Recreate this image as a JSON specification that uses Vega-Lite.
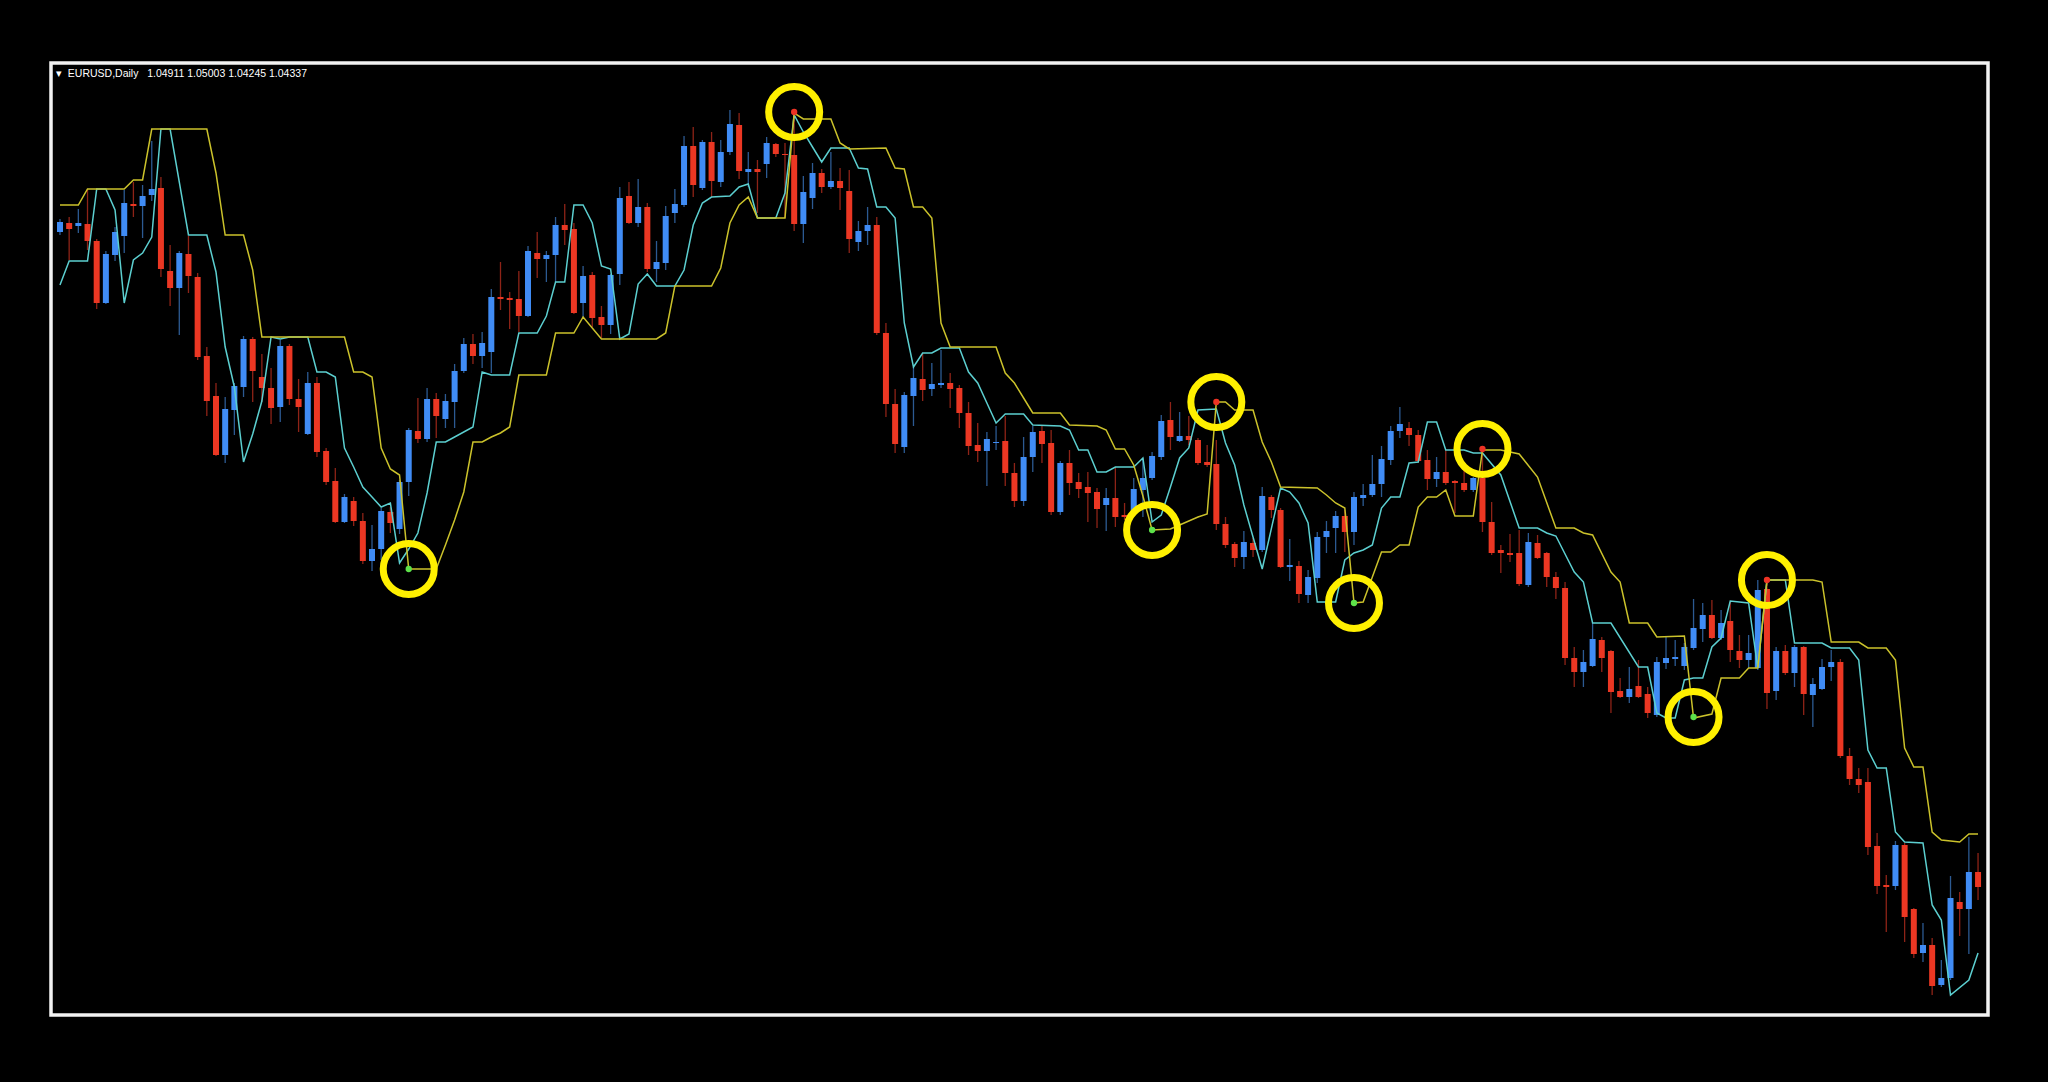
{
"$schema":"https://vega.github.io/schema/vega-lite/v6.json",
"width":1937,"height":952,
"autosize":{"type":"none"},
"padding":{"left":51,"top":63,"right":60,"bottom":67},
"background":"#000000",
"config":{"view":{"stroke":"#f2f2f2","strokeWidth":3.5,"fill":"#000000"}},
"title":{"text":"▾\u00a0\u00a0EURUSD,Daily\u00a0\u00a0\u00a01.04911 1.05003 1.04245 1.04337","anchor":"start","frame":"group","orient":"top","offset":-24,"dx":5,"baseline":"alphabetic","fontSize":10.5,"font":"Liberation Sans","fontWeight":"normal","color":"#ffffff"},
"datasets":{
"candles":[
{"i":0,"o":1.0968,"h":1.0981,"l":1.0965,"c":1.0978},
{"i":1,"o":1.0977,"h":1.0983,"l":1.0940,"c":1.0971},
{"i":2,"o":1.0974,"h":1.0991,"l":1.0967,"c":1.0977},
{"i":3,"o":1.0976,"h":1.1011,"l":1.0950,"c":1.0959},
{"i":4,"o":1.0959,"h":1.0961,"l":1.0891,"c":1.0897},
{"i":5,"o":1.0897,"h":1.0949,"l":1.0896,"c":1.0946},
{"i":6,"o":1.0945,"h":1.0973,"l":1.0939,"c":1.0968},
{"i":7,"o":1.0964,"h":1.1010,"l":1.0947,"c":1.0997},
{"i":8,"o":1.0996,"h":1.1018,"l":1.0983,"c":1.0994},
{"i":9,"o":1.0994,"h":1.1015,"l":1.0962,"c":1.1004},
{"i":10,"o":1.1005,"h":1.1059,"l":1.0999,"c":1.1011},
{"i":11,"o":1.1012,"h":1.1023,"l":1.0923,"c":1.0931},
{"i":12,"o":1.0929,"h":1.0955,"l":1.0894,"c":1.0912},
{"i":13,"o":1.0912,"h":1.0949,"l":1.0865,"c":1.0947},
{"i":14,"o":1.0946,"h":1.0964,"l":1.0907,"c":1.0924},
{"i":15,"o":1.0923,"h":1.0927,"l":1.0840,"c":1.0843},
{"i":16,"o":1.0844,"h":1.0853,"l":1.0784,"c":1.0799},
{"i":17,"o":1.0804,"h":1.0817,"l":1.0744,"c":1.0745},
{"i":18,"o":1.0745,"h":1.0803,"l":1.0737,"c":1.0791},
{"i":19,"o":1.0790,"h":1.0817,"l":1.0765,"c":1.0814},
{"i":20,"o":1.0813,"h":1.0864,"l":1.0803,"c":1.0861},
{"i":21,"o":1.0861,"h":1.0863,"l":1.0798,"c":1.0829},
{"i":22,"o":1.0823,"h":1.0846,"l":1.0798,"c":1.0812},
{"i":23,"o":1.0812,"h":1.0832,"l":1.0776,"c":1.0792},
{"i":24,"o":1.0793,"h":1.0860,"l":1.0778,"c":1.0854},
{"i":25,"o":1.0854,"h":1.0856,"l":1.0795,"c":1.0801},
{"i":26,"o":1.0801,"h":1.0821,"l":1.0768,"c":1.0793},
{"i":27,"o":1.0766,"h":1.0828,"l":1.0765,"c":1.0817},
{"i":28,"o":1.0817,"h":1.0823,"l":1.0743,"c":1.0748},
{"i":29,"o":1.0749,"h":1.0752,"l":1.0715,"c":1.0718},
{"i":30,"o":1.0719,"h":1.0732,"l":1.0677,"c":1.0678},
{"i":31,"o":1.0678,"h":1.0706,"l":1.0677,"c":1.0703},
{"i":32,"o":1.0699,"h":1.0703,"l":1.0674,"c":1.0679},
{"i":33,"o":1.0679,"h":1.0687,"l":1.0636,"c":1.0639},
{"i":34,"o":1.0639,"h":1.0675,"l":1.0629,"c":1.0651},
{"i":35,"o":1.0651,"h":1.0692,"l":1.0640,"c":1.0689},
{"i":36,"o":1.0688,"h":1.0693,"l":1.0667,"c":1.0677},
{"i":37,"o":1.0671,"h":1.0720,"l":1.0666,"c":1.0718},
{"i":38,"o":1.0718,"h":1.0772,"l":1.0704,"c":1.0770},
{"i":39,"o":1.0769,"h":1.0802,"l":1.0757,"c":1.0761},
{"i":40,"o":1.0761,"h":1.0812,"l":1.0758,"c":1.0801},
{"i":41,"o":1.0801,"h":1.0807,"l":1.0762,"c":1.0784},
{"i":42,"o":1.0781,"h":1.0806,"l":1.0772,"c":1.0799},
{"i":43,"o":1.0798,"h":1.0836,"l":1.0772,"c":1.0829},
{"i":44,"o":1.0829,"h":1.0862,"l":1.0827,"c":1.0856},
{"i":45,"o":1.0856,"h":1.0866,"l":1.0836,"c":1.0844},
{"i":46,"o":1.0844,"h":1.0868,"l":1.0832,"c":1.0857},
{"i":47,"o":1.0848,"h":1.0911,"l":1.0827,"c":1.0903},
{"i":48,"o":1.0903,"h":1.0938,"l":1.0890,"c":1.0901},
{"i":49,"o":1.0902,"h":1.0908,"l":1.0871,"c":1.0900},
{"i":50,"o":1.0901,"h":1.0929,"l":1.0868,"c":1.0884},
{"i":51,"o":1.0884,"h":1.0954,"l":1.0883,"c":1.0949},
{"i":52,"o":1.0947,"h":1.0968,"l":1.0922,"c":1.0941},
{"i":53,"o":1.0941,"h":1.0949,"l":1.0918,"c":1.0945},
{"i":54,"o":1.0945,"h":1.0983,"l":1.0918,"c":1.0975},
{"i":55,"o":1.0975,"h":1.0996,"l":1.0955,"c":1.0970},
{"i":56,"o":1.0971,"h":1.0977,"l":1.0886,"c":1.0887},
{"i":57,"o":1.0897,"h":1.0934,"l":1.0883,"c":1.0924},
{"i":58,"o":1.0925,"h":1.0928,"l":1.0873,"c":1.0882},
{"i":59,"o":1.0883,"h":1.0894,"l":1.0862,"c":1.0875},
{"i":60,"o":1.0875,"h":1.0926,"l":1.0866,"c":1.0925},
{"i":61,"o":1.0926,"h":1.1013,"l":1.0915,"c":1.1002},
{"i":62,"o":1.1004,"h":1.1018,"l":1.0976,"c":1.0977},
{"i":63,"o":1.0977,"h":1.1021,"l":1.0973,"c":1.0993},
{"i":64,"o":1.0993,"h":1.0997,"l":1.0928,"c":1.0931},
{"i":65,"o":1.0931,"h":1.0959,"l":1.0918,"c":1.0938},
{"i":66,"o":1.0937,"h":1.0994,"l":1.0930,"c":1.0984},
{"i":67,"o":1.0987,"h":1.1011,"l":1.0977,"c":1.0996},
{"i":68,"o":1.0995,"h":1.1064,"l":1.0993,"c":1.1054},
{"i":69,"o":1.1054,"h":1.1073,"l":1.1003,"c":1.1015},
{"i":70,"o":1.1012,"h":1.1060,"l":1.1010,"c":1.1058},
{"i":71,"o":1.1058,"h":1.1068,"l":1.1003,"c":1.1019},
{"i":72,"o":1.1018,"h":1.1060,"l":1.1013,"c":1.1048},
{"i":73,"o":1.1048,"h":1.1090,"l":1.1045,"c":1.1076},
{"i":74,"o":1.1075,"h":1.1087,"l":1.1021,"c":1.1029},
{"i":75,"o":1.1028,"h":1.1048,"l":1.1013,"c":1.1031},
{"i":76,"o":1.1031,"h":1.1040,"l":1.0987,"c":1.1028},
{"i":77,"o":1.1036,"h":1.1063,"l":1.1022,"c":1.1057},
{"i":78,"o":1.1056,"h":1.1057,"l":1.1043,"c":1.1046},
{"i":79,"o":1.1046,"h":1.1057,"l":1.0982,"c":1.1045},
{"i":80,"o":1.1045,"h":1.1088,"l":1.0969,"c":1.0976},
{"i":81,"o":1.0976,"h":1.1024,"l":1.0957,"c":1.1008},
{"i":82,"o":1.1002,"h":1.1037,"l":1.0991,"c":1.1027},
{"i":83,"o":1.1027,"h":1.1031,"l":1.1007,"c":1.1013},
{"i":84,"o":1.1013,"h":1.1048,"l":1.1011,"c":1.1019},
{"i":85,"o":1.1019,"h":1.1032,"l":1.0990,"c":1.1012},
{"i":86,"o":1.1009,"h":1.1030,"l":1.0947,"c":1.0961},
{"i":87,"o":1.0958,"h":1.0979,"l":1.0949,"c":1.0969},
{"i":88,"o":1.0969,"h":1.0993,"l":1.0955,"c":1.0975},
{"i":89,"o":1.0975,"h":1.0983,"l":1.0865,"c":1.0867},
{"i":90,"o":1.0867,"h":1.0877,"l":1.0783,"c":1.0796},
{"i":91,"o":1.0796,"h":1.0811,"l":1.0747,"c":1.0756},
{"i":92,"o":1.0753,"h":1.0808,"l":1.0747,"c":1.0805},
{"i":93,"o":1.0804,"h":1.0833,"l":1.0774,"c":1.0822},
{"i":94,"o":1.0821,"h":1.0847,"l":1.0799,"c":1.0810},
{"i":95,"o":1.0811,"h":1.0837,"l":1.0804,"c":1.0816},
{"i":96,"o":1.0815,"h":1.0850,"l":1.0812,"c":1.0817},
{"i":97,"o":1.0817,"h":1.0827,"l":1.0792,"c":1.0811},
{"i":98,"o":1.0812,"h":1.0815,"l":1.0772,"c":1.0787},
{"i":99,"o":1.0787,"h":1.0798,"l":1.0745,"c":1.0754},
{"i":100,"o":1.0755,"h":1.0777,"l":1.0738,"c":1.0749},
{"i":101,"o":1.0749,"h":1.0768,"l":1.0714,"c":1.0761},
{"i":102,"o":1.0757,"h":1.0774,"l":1.0750,"c":1.0758},
{"i":103,"o":1.0759,"h":1.0784,"l":1.0714,"c":1.0727},
{"i":104,"o":1.0727,"h":1.0737,"l":1.0693,"c":1.0699},
{"i":105,"o":1.0699,"h":1.0763,"l":1.0694,"c":1.0743},
{"i":106,"o":1.0743,"h":1.0774,"l":1.0728,"c":1.0768},
{"i":107,"o":1.0769,"h":1.0774,"l":1.0737,"c":1.0756},
{"i":108,"o":1.0757,"h":1.0770,"l":1.0685,"c":1.0688},
{"i":109,"o":1.0688,"h":1.0739,"l":1.0685,"c":1.0737},
{"i":110,"o":1.0737,"h":1.0750,"l":1.0705,"c":1.0717},
{"i":111,"o":1.0718,"h":1.0727,"l":1.0702,"c":1.0711},
{"i":112,"o":1.0713,"h":1.0728,"l":1.0678,"c":1.0707},
{"i":113,"o":1.0708,"h":1.0712,"l":1.0672,"c":1.0691},
{"i":114,"o":1.0695,"h":1.0712,"l":1.0669,"c":1.0702},
{"i":115,"o":1.0702,"h":1.0733,"l":1.0673,"c":1.0683},
{"i":116,"o":1.0685,"h":1.0697,"l":1.0680,"c":1.0683},
{"i":117,"o":1.0688,"h":1.0722,"l":1.0685,"c":1.0711},
{"i":118,"o":1.0710,"h":1.0742,"l":1.0683,"c":1.0722},
{"i":119,"o":1.0722,"h":1.0748,"l":1.0720,"c":1.0744},
{"i":120,"o":1.0743,"h":1.0785,"l":1.0740,"c":1.0779},
{"i":121,"o":1.0780,"h":1.0798,"l":1.0750,"c":1.0763},
{"i":122,"o":1.0759,"h":1.0788,"l":1.0758,"c":1.0764},
{"i":123,"o":1.0764,"h":1.0784,"l":1.0755,"c":1.0760},
{"i":124,"o":1.0760,"h":1.0762,"l":1.0735,"c":1.0737},
{"i":125,"o":1.0738,"h":1.0755,"l":1.0733,"c":1.0735},
{"i":126,"o":1.0736,"h":1.0760,"l":1.0670,"c":1.0676},
{"i":127,"o":1.0676,"h":1.0683,"l":1.0652,"c":1.0655},
{"i":128,"o":1.0656,"h":1.0658,"l":1.0633,"c":1.0642},
{"i":129,"o":1.0643,"h":1.0669,"l":1.0631,"c":1.0658},
{"i":130,"o":1.0657,"h":1.0662,"l":1.0643,"c":1.0650},
{"i":131,"o":1.0650,"h":1.0713,"l":1.0648,"c":1.0704},
{"i":132,"o":1.0703,"h":1.0705,"l":1.0682,"c":1.0690},
{"i":133,"o":1.0690,"h":1.0692,"l":1.0632,"c":1.0633},
{"i":134,"o":1.0633,"h":1.0661,"l":1.0619,"c":1.0635},
{"i":135,"o":1.0634,"h":1.0639,"l":1.0597,"c":1.0606},
{"i":136,"o":1.0605,"h":1.0630,"l":1.0597,"c":1.0623},
{"i":137,"o":1.0622,"h":1.0668,"l":1.0617,"c":1.0663},
{"i":138,"o":1.0663,"h":1.0679,"l":1.0647,"c":1.0669},
{"i":139,"o":1.0672,"h":1.0689,"l":1.0647,"c":1.0684},
{"i":140,"o":1.0684,"h":1.0690,"l":1.0648,"c":1.0668},
{"i":141,"o":1.0668,"h":1.0708,"l":1.0655,"c":1.0703},
{"i":142,"o":1.0702,"h":1.0716,"l":1.0694,"c":1.0705},
{"i":143,"o":1.0705,"h":1.0745,"l":1.0703,"c":1.0716},
{"i":144,"o":1.0716,"h":1.0754,"l":1.0703,"c":1.0741},
{"i":145,"o":1.0740,"h":1.0774,"l":1.0735,"c":1.0769},
{"i":146,"o":1.0769,"h":1.0793,"l":1.0762,"c":1.0776},
{"i":147,"o":1.0772,"h":1.0778,"l":1.0754,"c":1.0765},
{"i":148,"o":1.0765,"h":1.0770,"l":1.0737,"c":1.0739},
{"i":149,"o":1.0740,"h":1.0750,"l":1.0710,"c":1.0721},
{"i":150,"o":1.0721,"h":1.0743,"l":1.0713,"c":1.0728},
{"i":151,"o":1.0728,"h":1.0750,"l":1.0715,"c":1.0717},
{"i":152,"o":1.0719,"h":1.0720,"l":1.0687,"c":1.0717},
{"i":153,"o":1.0717,"h":1.0730,"l":1.0708,"c":1.0710},
{"i":154,"o":1.0710,"h":1.0723,"l":1.0708,"c":1.0722},
{"i":155,"o":1.0722,"h":1.0751,"l":1.0668,"c":1.0678},
{"i":156,"o":1.0678,"h":1.0698,"l":1.0645,"c":1.0647},
{"i":157,"o":1.0650,"h":1.0655,"l":1.0627,"c":1.0647},
{"i":158,"o":1.0647,"h":1.0666,"l":1.0638,"c":1.0645},
{"i":159,"o":1.0647,"h":1.0670,"l":1.0614,"c":1.0616},
{"i":160,"o":1.0615,"h":1.0667,"l":1.0613,"c":1.0658},
{"i":161,"o":1.0657,"h":1.0665,"l":1.0641,"c":1.0642},
{"i":162,"o":1.0647,"h":1.0648,"l":1.0613,"c":1.0623},
{"i":163,"o":1.0623,"h":1.0628,"l":1.0601,"c":1.0612},
{"i":164,"o":1.0612,"h":1.0618,"l":1.0535,"c":1.0542},
{"i":165,"o":1.0542,"h":1.0553,"l":1.0513,"c":1.0528},
{"i":166,"o":1.0528,"h":1.0550,"l":1.0513,"c":1.0538},
{"i":167,"o":1.0534,"h":1.0577,"l":1.0533,"c":1.0561},
{"i":168,"o":1.0560,"h":1.0563,"l":1.0528,"c":1.0542},
{"i":169,"o":1.0549,"h":1.0550,"l":1.0487,"c":1.0508},
{"i":170,"o":1.0509,"h":1.0522,"l":1.0502,"c":1.0503},
{"i":171,"o":1.0503,"h":1.0533,"l":1.0497,"c":1.0511},
{"i":172,"o":1.0514,"h":1.0540,"l":1.0502,"c":1.0503},
{"i":173,"o":1.0506,"h":1.0513,"l":1.0482,"c":1.0487},
{"i":174,"o":1.0485,"h":1.0543,"l":1.0483,"c":1.0538},
{"i":175,"o":1.0537,"h":1.0563,"l":1.0531,"c":1.0542},
{"i":176,"o":1.0541,"h":1.0560,"l":1.0534,"c":1.0543},
{"i":177,"o":1.0534,"h":1.0557,"l":1.0530,"c":1.0553},
{"i":178,"o":1.0552,"h":1.0601,"l":1.0550,"c":1.0572},
{"i":179,"o":1.0571,"h":1.0597,"l":1.0558,"c":1.0585},
{"i":180,"o":1.0585,"h":1.0600,"l":1.0561,"c":1.0562},
{"i":181,"o":1.0562,"h":1.0590,"l":1.0560,"c":1.0577},
{"i":182,"o":1.0579,"h":1.0598,"l":1.0538,"c":1.0550},
{"i":183,"o":1.0549,"h":1.0565,"l":1.0532,"c":1.0540},
{"i":184,"o":1.0540,"h":1.0565,"l":1.0532,"c":1.0547},
{"i":185,"o":1.0532,"h":1.0620,"l":1.0530,"c":1.0610},
{"i":186,"o":1.0611,"h":1.0620,"l":1.0491,"c":1.0507},
{"i":187,"o":1.0509,"h":1.0553,"l":1.0500,"c":1.0549},
{"i":188,"o":1.0549,"h":1.0555,"l":1.0525,"c":1.0527},
{"i":189,"o":1.0527,"h":1.0555,"l":1.0513,"c":1.0553},
{"i":190,"o":1.0553,"h":1.0554,"l":1.0485,"c":1.0506},
{"i":191,"o":1.0505,"h":1.0522,"l":1.0473,"c":1.0516},
{"i":192,"o":1.0511,"h":1.0541,"l":1.0510,"c":1.0533},
{"i":193,"o":1.0533,"h":1.0550,"l":1.0519,"c":1.0538},
{"i":194,"o":1.0538,"h":1.0541,"l":1.0442,"c":1.0444},
{"i":195,"o":1.0444,"h":1.0452,"l":1.0415,"c":1.0421},
{"i":196,"o":1.0421,"h":1.0432,"l":1.0407,"c":1.0415},
{"i":197,"o":1.0418,"h":1.0432,"l":1.0345,"c":1.0353},
{"i":198,"o":1.0354,"h":1.0367,"l":1.0306,"c":1.0314},
{"i":199,"o":1.0315,"h":1.0325,"l":1.0268,"c":1.0313},
{"i":200,"o":1.0314,"h":1.0359,"l":1.0310,"c":1.0355},
{"i":201,"o":1.0355,"h":1.0357,"l":1.0258,"c":1.0283},
{"i":202,"o":1.0291,"h":1.0292,"l":1.0242,"c":1.0246},
{"i":203,"o":1.0247,"h":1.0277,"l":1.0238,"c":1.0255},
{"i":204,"o":1.0255,"h":1.0262,"l":1.0205,"c":1.0214},
{"i":205,"o":1.0215,"h":1.0240,"l":1.0213,"c":1.0222},
{"i":206,"o":1.0222,"h":1.0324,"l":1.0220,"c":1.0302},
{"i":207,"o":1.0298,"h":1.0308,"l":1.0264,"c":1.0291},
{"i":208,"o":1.0291,"h":1.0363,"l":1.0246,"c":1.0328},
{"i":209,"o":1.0328,"h":1.0347,"l":1.0300,"c":1.0313}
],
"cyan":[
{"i":0,"v":1.0915},{"i":1,"v":1.0939},{"i":3,"v":1.0939},{"i":4,"v":1.1011},{"i":5,"v":1.1011},{"i":6,"v":1.0990},{"i":7,"v":1.0897},{"i":8,"v":1.0940},{"i":9,"v":1.0947},{"i":10,"v":1.0963},{"i":11,"v":1.1071},{"i":12,"v":1.1071},{"i":14,"v":1.0965},{"i":16,"v":1.0965},{"i":17,"v":1.0928},{"i":18,"v":1.0853},{"i":19,"v":1.0813},{"i":20,"v":1.0738},{"i":21,"v":1.0766},{"i":22,"v":1.0799},{"i":23,"v":1.0863},{"i":24,"v":1.0861},{"i":25,"v":1.0863},{"i":27,"v":1.0863},{"i":28,"v":1.0828},{"i":29,"v":1.0828},{"i":30,"v":1.0823},{"i":31,"v":1.0752},{"i":32,"v":1.0733},{"i":33,"v":1.0713},{"i":34,"v":1.0703},{"i":35,"v":1.0693},{"i":36,"v":1.0697},{"i":37,"v":1.0637},{"i":38,"v":1.0651},{"i":39,"v":1.0667},{"i":40,"v":1.0707},{"i":41,"v":1.0758},{"i":42,"v":1.0758},{"i":43,"v":1.0763},{"i":45,"v":1.0773},{"i":46,"v":1.0828},{"i":47,"v":1.0825},{"i":49,"v":1.0825},{"i":50,"v":1.0867},{"i":52,"v":1.0867},{"i":53,"v":1.0884},{"i":54,"v":1.0918},{"i":55,"v":1.0918},{"i":56,"v":1.0995},{"i":57,"v":1.0995},{"i":58,"v":1.0977},{"i":59,"v":1.0934},{"i":60,"v":1.0931},{"i":61,"v":1.0861},{"i":62,"v":1.0866},{"i":63,"v":1.0916},{"i":64,"v":1.0926},{"i":65,"v":1.0914},{"i":67,"v":1.0914},{"i":68,"v":1.0930},{"i":69,"v":1.0975},{"i":70,"v":1.0997},{"i":71,"v":1.1003},{"i":73,"v":1.1004},{"i":74,"v":1.1013},{"i":75,"v":1.1016},{"i":76,"v":1.0982},{"i":78,"v":1.0982},{"i":79,"v":1.1007},{"i":80,"v":1.1085},{"i":81,"v":1.1068},{"i":82,"v":1.1053},{"i":83,"v":1.1038},{"i":84,"v":1.1052},{"i":86,"v":1.1052},{"i":87,"v":1.1032},{"i":88,"v":1.1031},{"i":89,"v":1.0993},{"i":90,"v":1.0993},{"i":91,"v":1.0982},{"i":92,"v":1.0877},{"i":93,"v":1.0833},{"i":94,"v":1.0847},{"i":95,"v":1.0847},{"i":96,"v":1.0852},{"i":98,"v":1.0852},{"i":99,"v":1.0828},{"i":100,"v":1.0817},{"i":101,"v":1.0797},{"i":102,"v":1.0777},{"i":103,"v":1.0786},{"i":105,"v":1.0786},{"i":106,"v":1.0775},{"i":109,"v":1.0774},{"i":110,"v":1.0770},{"i":111,"v":1.0750},{"i":112,"v":1.0750},{"i":113,"v":1.0728},{"i":114,"v":1.0728},{"i":115,"v":1.0733},{"i":117,"v":1.0733},{"i":118,"v":1.0742},{"i":119,"v":1.0678},{"i":120,"v":1.0685},{"i":121,"v":1.0713},{"i":122,"v":1.0742},{"i":123,"v":1.0752},{"i":124,"v":1.0790},{"i":126,"v":1.0791},{"i":127,"v":1.0757},{"i":128,"v":1.0735},{"i":129,"v":1.0695},{"i":130,"v":1.0663},{"i":131,"v":1.0631},{"i":133,"v":1.0712},{"i":134,"v":1.0708},{"i":135,"v":1.0697},{"i":136,"v":1.0677},{"i":137,"v":1.0598},{"i":139,"v":1.0598},{"i":140,"v":1.0640},{"i":141,"v":1.0647},{"i":142,"v":1.0650},{"i":143,"v":1.0655},{"i":144,"v":1.0692},{"i":145,"v":1.0703},{"i":146,"v":1.0703},{"i":147,"v":1.0737},{"i":148,"v":1.0738},{"i":149,"v":1.0778},{"i":150,"v":1.0778},{"i":151,"v":1.0750},{"i":153,"v":1.0750},{"i":154,"v":1.0747},{"i":155,"v":1.0747},{"i":157,"v":1.0725},{"i":159,"v":1.0672},{"i":161,"v":1.0672},{"i":162,"v":1.0667},{"i":163,"v":1.0664},{"i":165,"v":1.0628},{"i":166,"v":1.0618},{"i":167,"v":1.0577},{"i":169,"v":1.0577},{"i":172,"v":1.0533},{"i":173,"v":1.0533},{"i":174,"v":1.0487},{"i":175,"v":1.0482},{"i":176,"v":1.0482},{"i":177,"v":1.0520},{"i":178,"v":1.0522},{"i":179,"v":1.0522},{"i":180,"v":1.0553},{"i":181,"v":1.0562},{"i":182,"v":1.0599},{"i":184,"v":1.0597},{"i":185,"v":1.0532},{"i":186,"v":1.0620},{"i":188,"v":1.0620},{"i":189,"v":1.0557},{"i":192,"v":1.0557},{"i":193,"v":1.0552},{"i":195,"v":1.0552},{"i":196,"v":1.0540},{"i":197,"v":1.0450},{"i":198,"v":1.0432},{"i":199,"v":1.0432},{"i":200,"v":1.0368},{"i":201,"v":1.0358},{"i":203,"v":1.0357},{"i":204,"v":1.0295},{"i":205,"v":1.0280},{"i":206,"v":1.0205},{"i":208,"v":1.0220},{"i":209,"v":1.0247}
],
"yellow":[
{"i":0,"v":1.0995},{"i":2,"v":1.0995},{"i":3,"v":1.1011},{"i":7,"v":1.1011},{"i":8,"v":1.1020},{"i":9,"v":1.1020},{"i":10,"v":1.1071},{"i":16,"v":1.1071},{"i":17,"v":1.1027},{"i":18,"v":1.0965},{"i":20,"v":1.0965},{"i":21,"v":1.0930},{"i":22,"v":1.0863},{"i":31,"v":1.0863},{"i":32,"v":1.0828},{"i":33,"v":1.0828},{"i":34,"v":1.0823},{"i":35,"v":1.0752},{"i":36,"v":1.0731},{"i":37,"v":1.0725},{"i":38,"v":1.0631},{"i":41,"v":1.0631},{"i":42,"v":1.0655},{"i":43,"v":1.0680},{"i":44,"v":1.0708},{"i":45,"v":1.0758},{"i":46,"v":1.0758},{"i":47,"v":1.0763},{"i":48,"v":1.0767},{"i":49,"v":1.0773},{"i":50,"v":1.0825},{"i":53,"v":1.0825},{"i":54,"v":1.0867},{"i":56,"v":1.0867},{"i":57,"v":1.0883},{"i":59,"v":1.0861},{"i":65,"v":1.0861},{"i":66,"v":1.0867},{"i":67,"v":1.0914},{"i":71,"v":1.0914},{"i":72,"v":1.0932},{"i":73,"v":1.0977},{"i":74,"v":1.0995},{"i":75,"v":1.1003},{"i":76,"v":1.0982},{"i":79,"v":1.0982},{"i":80,"v":1.1087},{"i":81,"v":1.1081},{"i":84,"v":1.1081},{"i":85,"v":1.1057},{"i":86,"v":1.1051},{"i":90,"v":1.1052},{"i":91,"v":1.1032},{"i":92,"v":1.1031},{"i":93,"v":1.0993},{"i":94,"v":1.0993},{"i":95,"v":1.0982},{"i":96,"v":1.0877},{"i":97,"v":1.0853},{"i":102,"v":1.0853},{"i":103,"v":1.0827},{"i":104,"v":1.0817},{"i":105,"v":1.0802},{"i":106,"v":1.0787},{"i":109,"v":1.0787},{"i":110,"v":1.0775},{"i":113,"v":1.0774},{"i":114,"v":1.0770},{"i":115,"v":1.0751},{"i":116,"v":1.0751},{"i":117,"v":1.0735},{"i":118,"v":1.0704},{"i":119,"v":1.0670},{"i":121,"v":1.0671},{"i":122,"v":1.0675},{"i":124,"v":1.0683},{"i":125,"v":1.0686},{"i":126,"v":1.0798},{"i":127,"v":1.0798},{"i":128,"v":1.0790},{"i":130,"v":1.0790},{"i":131,"v":1.0758},{"i":132,"v":1.0738},{"i":133,"v":1.0713},{"i":137,"v":1.0712},{"i":138,"v":1.0705},{"i":139,"v":1.0697},{"i":140,"v":1.0692},{"i":141,"v":1.0597},{"i":142,"v":1.0598},{"i":143,"v":1.0623},{"i":144,"v":1.0648},{"i":145,"v":1.0648},{"i":146,"v":1.0655},{"i":147,"v":1.0655},{"i":148,"v":1.0693},{"i":149,"v":1.0703},{"i":150,"v":1.0703},{"i":151,"v":1.0710},{"i":152,"v":1.0684},{"i":154,"v":1.0684},{"i":155,"v":1.0750},{"i":157,"v":1.0750},{"i":159,"v":1.0746},{"i":161,"v":1.0723},{"i":163,"v":1.0672},{"i":165,"v":1.0672},{"i":166,"v":1.0667},{"i":167,"v":1.0665},{"i":169,"v":1.0628},{"i":170,"v":1.0618},{"i":171,"v":1.0577},{"i":173,"v":1.0577},{"i":174,"v":1.0563},{"i":177,"v":1.0564},{"i":178,"v":1.0482},{"i":180,"v":1.0486},{"i":181,"v":1.0522},{"i":183,"v":1.0522},{"i":184,"v":1.0532},{"i":185,"v":1.0532},{"i":186,"v":1.0620},{"i":191,"v":1.0620},{"i":192,"v":1.0618},{"i":193,"v":1.0558},{"i":196,"v":1.0558},{"i":197,"v":1.0552},{"i":199,"v":1.0552},{"i":200,"v":1.0540},{"i":201,"v":1.0452},{"i":202,"v":1.0433},{"i":203,"v":1.0433},{"i":204,"v":1.0368},{"i":205,"v":1.0360},{"i":207,"v":1.0358},{"i":208,"v":1.0366},{"i":209,"v":1.0366}
],
"swings":[
{"i":38,"v":1.0631,"kind":"low"},
{"i":80,"v":1.1088,"kind":"high"},
{"i":119,"v":1.0670,"kind":"low"},
{"i":126,"v":1.0798,"kind":"high"},
{"i":141,"v":1.0597,"kind":"low"},
{"i":155,"v":1.0751,"kind":"high"},
{"i":178,"v":1.0483,"kind":"low"},
{"i":186,"v":1.0620,"kind":"high"}
]
},
"encoding":{
"x":{"field":"i","type":"quantitative","scale":{"domain":[-0.434,209.54],"nice":false,"zero":false},"axis":null}
},
"layer":[
{"data":{"name":"candles"},"mark":{"type":"rule","strokeWidth":1.3,"clip":true},
 "encoding":{"y":{"field":"l","type":"quantitative","scale":{"domain":[1.0185,1.1137],"nice":false,"zero":false},"axis":null},"y2":{"field":"h"},
 "color":{"condition":{"test":"datum.c >= datum.o","value":"#2c5a92"},"value":"#8e2317"}}},
{"data":{"name":"candles"},"mark":{"type":"bar","size":6,"orient":"vertical","clip":true},
 "encoding":{"y":{"field":"o","type":"quantitative"},"y2":{"field":"c"},
 "color":{"condition":{"test":"datum.c >= datum.o","value":"#408cf5"},"value":"#eb3723"}}},
{"data":{"name":"cyan"},"mark":{"type":"line","color":"#5ccfd0","strokeWidth":1.5,"clip":true},
 "encoding":{"y":{"field":"v","type":"quantitative"}}},
{"data":{"name":"yellow"},"mark":{"type":"line","color":"#cbc22b","strokeWidth":1.5,"clip":true},
 "encoding":{"y":{"field":"v","type":"quantitative"}}},
{"data":{"name":"swings"},"mark":{"type":"point","filled":true,"size":40,"opacity":1},
 "encoding":{"y":{"field":"v","type":"quantitative"},
 "color":{"condition":{"test":"datum.kind === 'high'","value":"#ee3324"},"value":"#5ee24a"}}},
{"data":{"name":"swings"},"mark":{"type":"point","filled":false,"shape":"circle","size":2601,"strokeWidth":7,"color":"#fff000","opacity":1},
 "encoding":{"y":{"field":"v","type":"quantitative"}}}
]
}
